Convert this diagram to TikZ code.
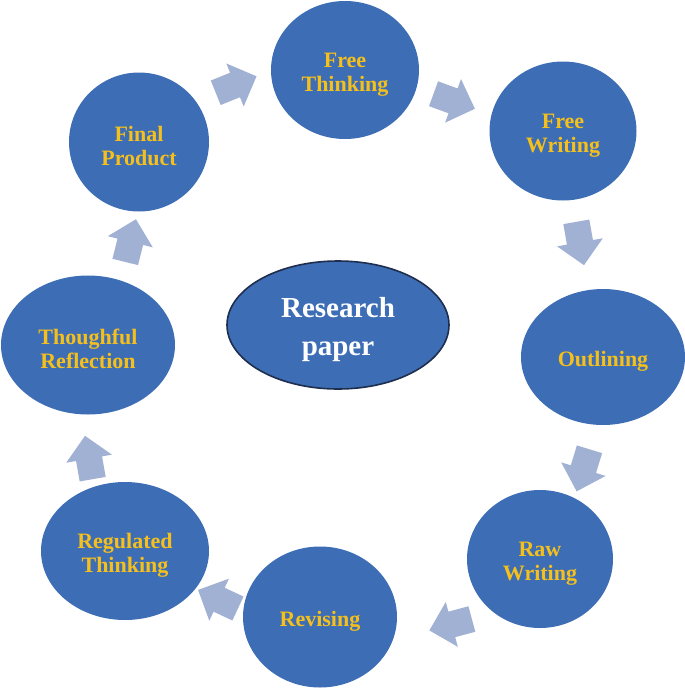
\documentclass[tikz,border=0pt]{standalone}
\usepackage{fontspec}
\setmainfont{Liberation Serif}
\usetikzlibrary{shapes.geometric,shapes.arrows}
\definecolor{cblue}{HTML}{3D6DB4}
\definecolor{cgold}{HTML}{F5C01C}
\definecolor{carrow}{HTML}{A1B1D4}
\definecolor{cedge}{HTML}{1E2E4E}
\newcommand{\lowstrut}{\rule{0pt}{24pt}}
\newcommand{\hubstrut}{\rule{0pt}{30pt}}
\tikzset{
  stage/.style={ellipse, fill=cblue, draw=none, inner sep=0pt, align=center,
    text=cgold, font=\fontsize{22}{24}\selectfont\bfseries},
  hub/.style={ellipse, fill=cblue, draw=cedge, line width=1.6pt, inner sep=0pt, align=center,
    text=white, font=\fontsize{29}{38}\selectfont\bfseries},
  flow/.style={single arrow, fill=carrow, draw=none, minimum height=44pt, minimum width=46pt,
    inner sep=13pt, single arrow head extend=10pt, single arrow tip angle=90},
}
\begin{document}
\begin{tikzpicture}[x=1pt,y=-1pt]
\useasboundingbox (0,0) rectangle (685,689);
\node[stage, minimum width=148pt, minimum height=138pt] (ft) at (345,70) {\lowstrut Free\\Thinking};
\node[stage, minimum width=147pt, minimum height=139pt] (fw) at (563,131) {\lowstrut Free\\Writing};
\node[stage, minimum width=164pt, minimum height=136pt] (ol) at (603,357) {\lowstrut Outlining};
\node[stage, minimum width=146pt, minimum height=138pt] (rw) at (540,559) {\lowstrut Raw\\Writing};
\node[stage, minimum width=154pt, minimum height=141pt] (rv) at (320,617) {\lowstrut Revising};
\node[stage, minimum width=168pt, minimum height=138pt] (rt) at (125,551) {\lowstrut Regulated\\Thinking};
\node[stage, minimum width=174pt, minimum height=139pt] (tr) at (88,345) {\lowstrut Thoughful\\Reflection};
\node[stage, minimum width=140pt, minimum height=139pt] (fp) at (139,142) {\lowstrut Final\\Product};
\node[hub, minimum width=222pt, minimum height=128pt] (hub) at (338,325) {\hubstrut Research\\paper};
\node[flow, rotate=22] (a1) at (230,87) {};
\node[flow, rotate=-20] (a2) at (448,99) {};
\node[flow, rotate=-80] (a3) at (579,237) {};
\node[flow, rotate=-107] (a4) at (585,464) {};
\node[flow, rotate=-165] (a5) at (457,623) {};
\node[flow, rotate=155] (a6) at (224,602) {};
\node[flow, rotate=100] (a7) at (90,464) {};
\node[flow, rotate=76] (a8) at (129,247) {};
\end{tikzpicture}
\end{document}
